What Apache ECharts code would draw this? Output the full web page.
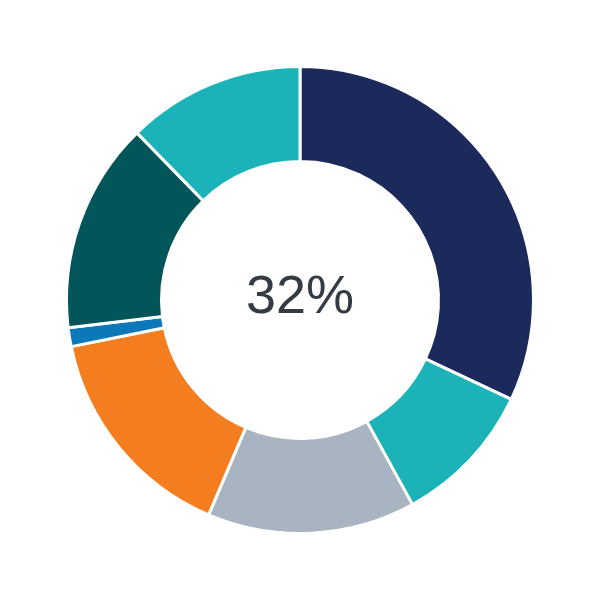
<!DOCTYPE html>
<html>
<head>
<meta charset="utf-8">
<script src="https://cdn.jsdelivr.net/npm/echarts@6/dist/echarts.min.js"></script>
<style>html,body{margin:0;padding:0;background:#fff;}#c{width:600px;height:600px;}</style>
</head>
<body>
<div id="c"></div>
<script>
var categories = ['A', 'B', 'C', 'D', 'E', 'F', 'G'];
var values = [32, 10, 14.4, 15.4, 1.3, 14.6, 12.3];
var colors = ['#1b2a5a', '#1bb3b7', '#a9b4c2', '#f47d20', '#0a78b9', '#02565a', '#1bb3b7'];
var centerLabel = '32%';

var chart = echarts.init(document.getElementById('c'), null, {renderer: 'canvas'});
chart.setOption({
  animation: false,
  backgroundColor: '#ffffff',
  graphic: [{
    type: 'text',
    left: 'center',
    top: 271,
    style: {
      text: centerLabel,
      fontSize: 54,
      fontFamily: 'Liberation Sans, Arial, sans-serif',
      fill: '#353b45'
    }
  }],
  series: [{
    type: 'pie',
    center: [300, 300],
    radius: [138.5, 233.5],
    startAngle: 90,
    clockwise: true,
    label: {show: false},
    labelLine: {show: false},
    emphasis: {disabled: true},
    itemStyle: {borderColor: '#ffffff', borderWidth: 3},
    data: categories.map(function (c, i) {
      return {name: c, value: values[i], itemStyle: {color: colors[i]}};
    })
  }]
});
</script>
</body>
</html>
